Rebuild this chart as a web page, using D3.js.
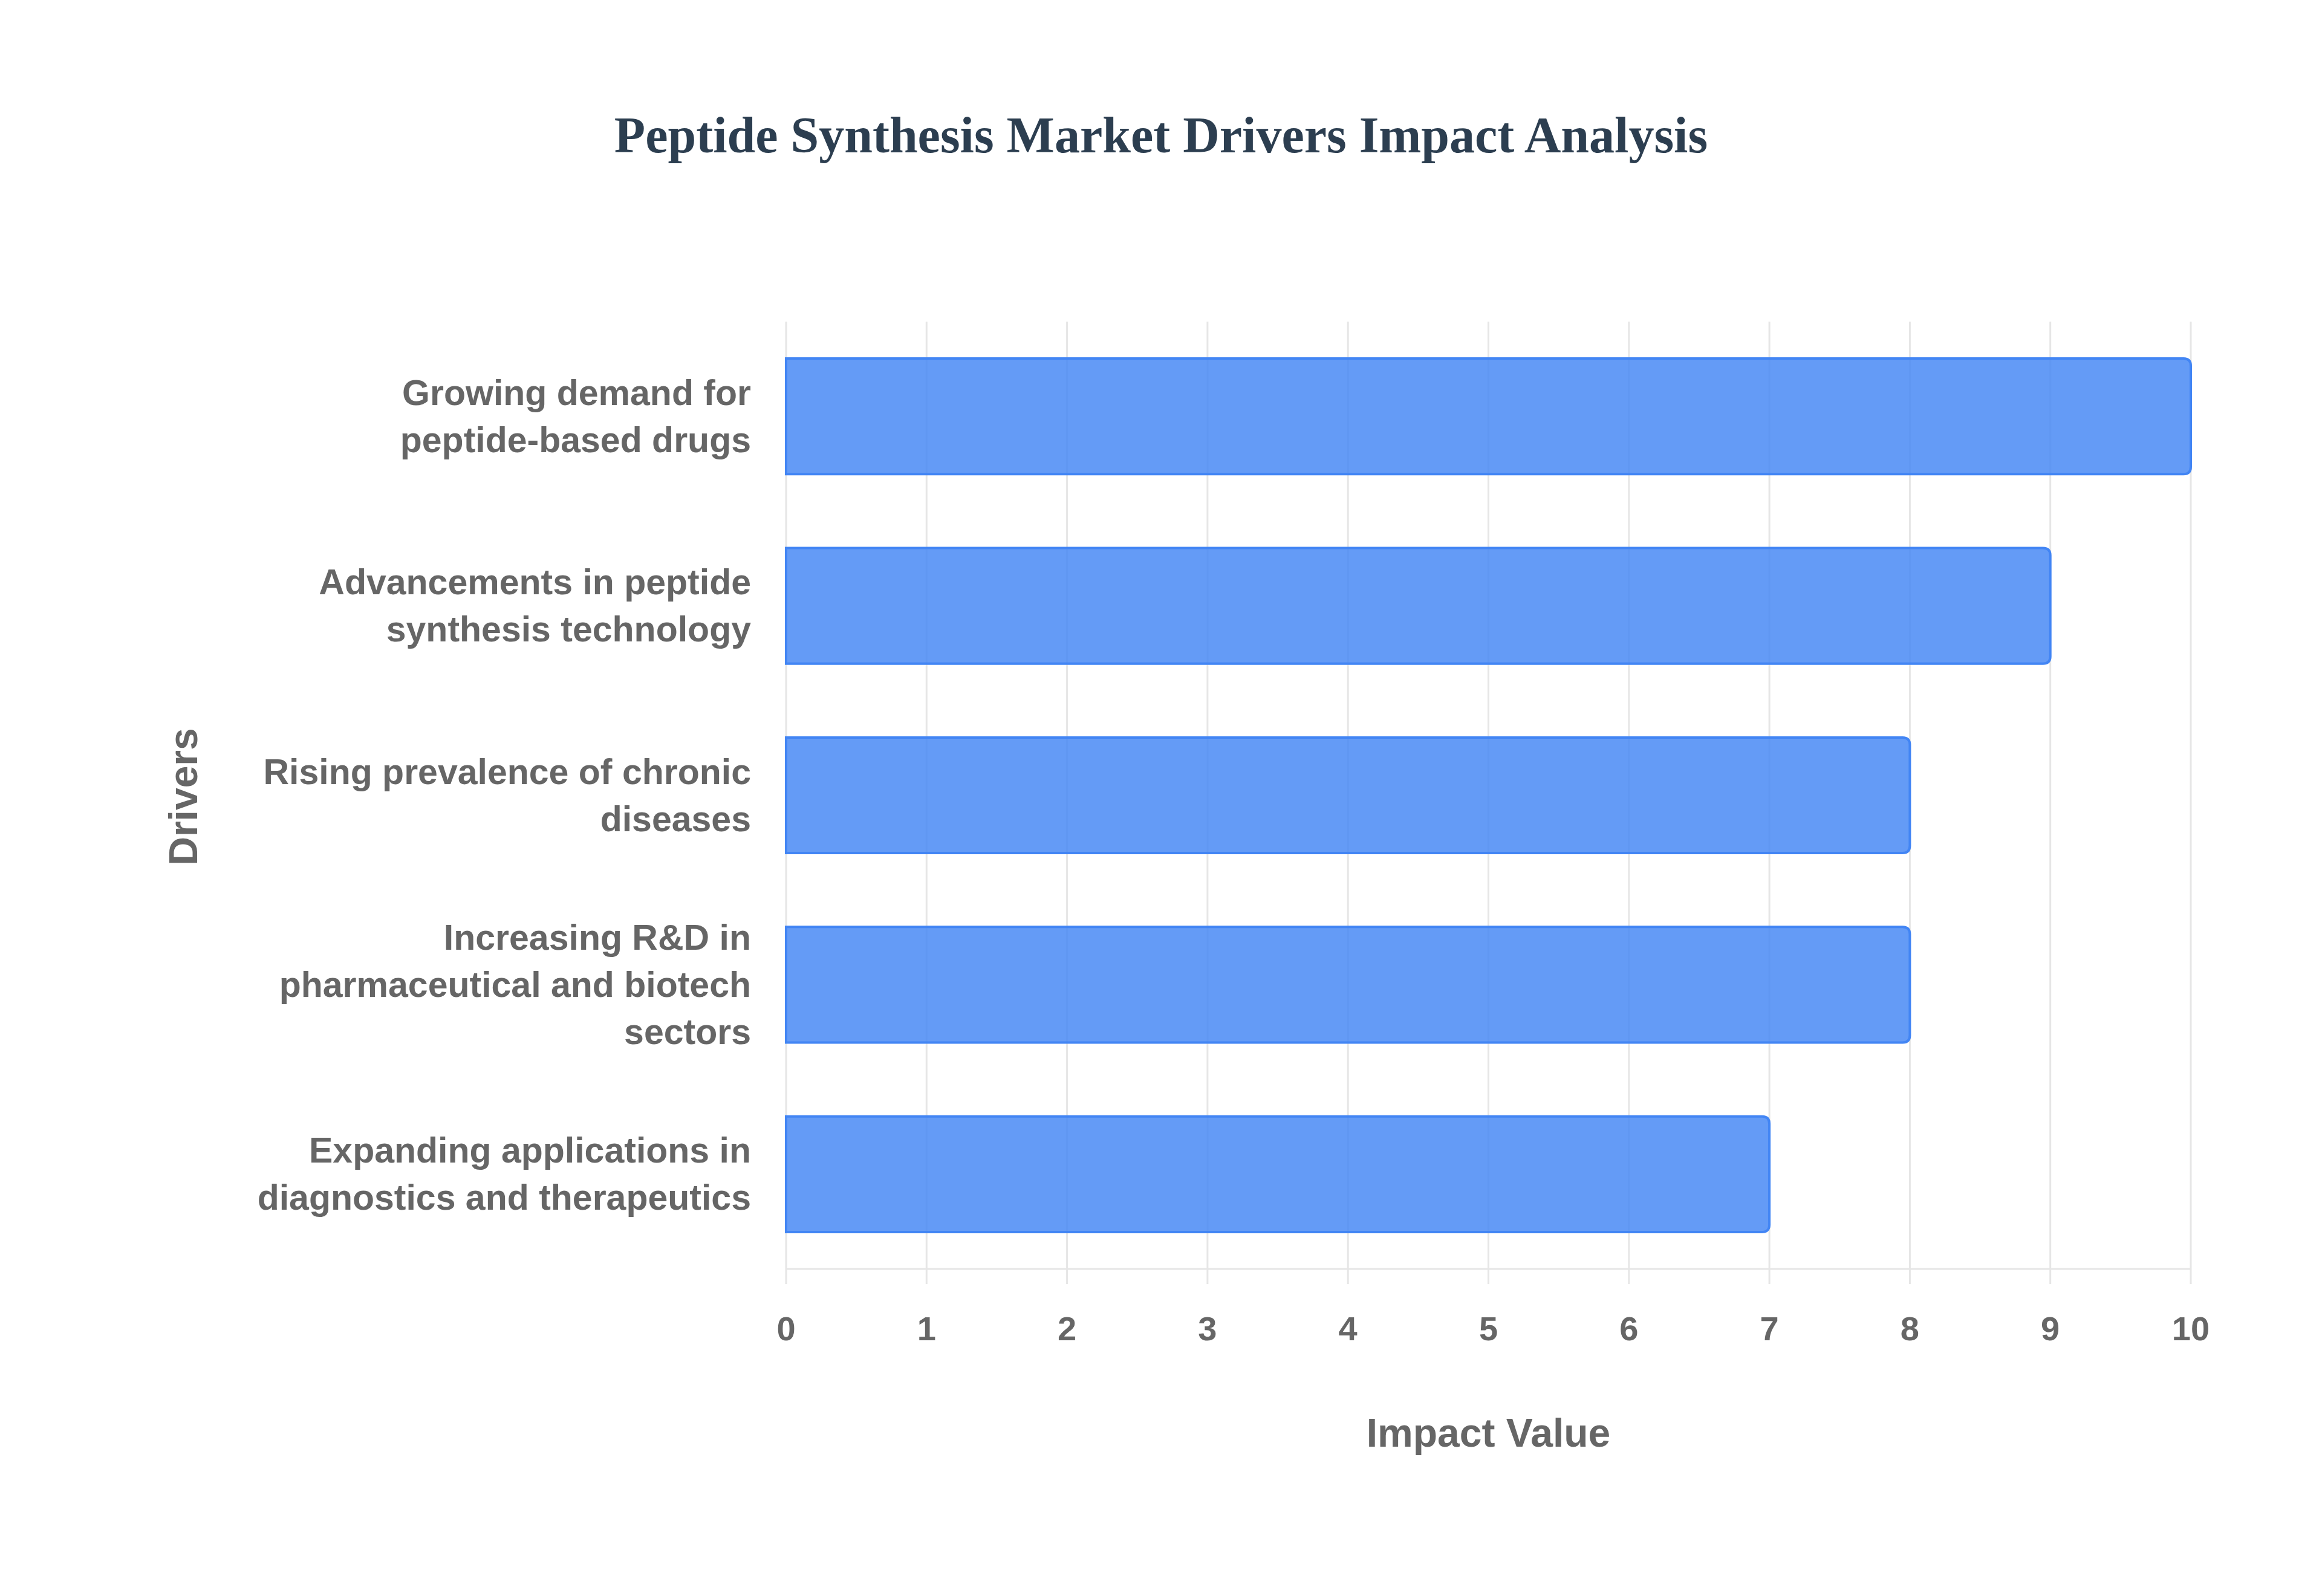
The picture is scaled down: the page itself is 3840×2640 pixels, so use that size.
<!DOCTYPE html>
<html><head><meta charset="utf-8">
<script src="https://cdn.jsdelivr.net/npm/d3@7"></script>
<style>body{margin:0;background:#fff}</style></head>
<body><svg id="c" width="3840" height="2640"></svg>
<script>
const categories = [
  ["Growing demand for","peptide-based drugs"],
  ["Advancements in peptide","synthesis technology"],
  ["Rising prevalence of chronic","diseases"],
  ["Increasing R&D in","pharmaceutical and biotech","sectors"],
  ["Expanding applications in","diagnostics and therapeutics"]
];
const values = [10, 9, 8, 8, 7];
const xTicks = [0,1,2,3,4,5,6,7,8,9,10];

const svg = d3.select("#c");
const L = 1300, R = 3623, T = 532, B = 2099;
const x = d3.scaleLinear().domain([0,10]).range([L,R]);
const y = d3.scaleBand().domain(d3.range(values.length)).range([T,B]).paddingInner(0.39).paddingOuter(0.195);

svg.append("text").attr("x",1920).attr("y",252).attr("text-anchor","middle")
  .attr("font-family","Liberation Serif, serif").attr("font-weight","bold")
  .attr("font-size",84).attr("fill","#2c3e50").text("Peptide Synthesis Market Drivers Impact Analysis");

// grid
svg.append("g").selectAll("line").data(xTicks).join("line")
  .attr("x1",d=>x(d)).attr("x2",d=>x(d)).attr("y1",T).attr("y2",B+25)
  .attr("stroke","#e6e6e6").attr("stroke-width",3);
svg.append("line").attr("x1",L).attr("x2",R).attr("y1",B).attr("y2",B)
  .attr("stroke","#e6e6e6").attr("stroke-width",3);

// bars
svg.append("g").selectAll("path").data(values).join("path")
  .attr("d",(d,i)=>{
    const x0=x(0), x1=x(d), y0=y(i), h=y.bandwidth(), r=12;
    return `M${x0},${y0}H${x1-r}Q${x1},${y0} ${x1},${y0+r}V${y0+h-r}Q${x1},${y0+h} ${x1-r},${y0+h}H${x0}Z`;
  })
  .attr("fill","rgba(66,133,244,0.82)").attr("stroke","#4285f4").attr("stroke-width",4);

// x tick labels
svg.append("g").selectAll("text").data(xTicks).join("text")
  .attr("x",d=>x(d)).attr("y",2217).attr("text-anchor","middle")
  .attr("font-family","Liberation Sans, Arial, sans-serif").attr("font-weight","bold")
  .attr("font-size",56).attr("fill","#666").text(d=>d);

// y labels
const lh = 78;
svg.append("g").selectAll("text").data(categories).join("text")
  .attr("text-anchor","end").attr("font-family","Liberation Sans, Arial, sans-serif")
  .attr("font-weight","bold").attr("font-size",59).attr("fill","#666")
  .each(function(lines,i){
    const cy = y(i)+y.bandwidth()/2;
    const start = cy - (lines.length-1)*lh/2 + 20;
    d3.select(this).selectAll("tspan").data(lines).join("tspan")
      .attr("x",1242).attr("y",(d,j)=>start+j*lh).text(d=>d);
  });

svg.append("text").attr("x",(L+R)/2).attr("y",2393).attr("text-anchor","middle")
  .attr("font-family","Liberation Sans, Arial, sans-serif").attr("font-weight","bold")
  .attr("font-size",66).attr("fill","#666").text("Impact Value");
svg.append("text").attr("transform","translate(326,1318) rotate(-90)").attr("text-anchor","middle")
  .attr("font-family","Liberation Sans, Arial, sans-serif").attr("font-weight","bold")
  .attr("font-size",66).attr("fill","#666").text("Drivers");
</script></body></html>
